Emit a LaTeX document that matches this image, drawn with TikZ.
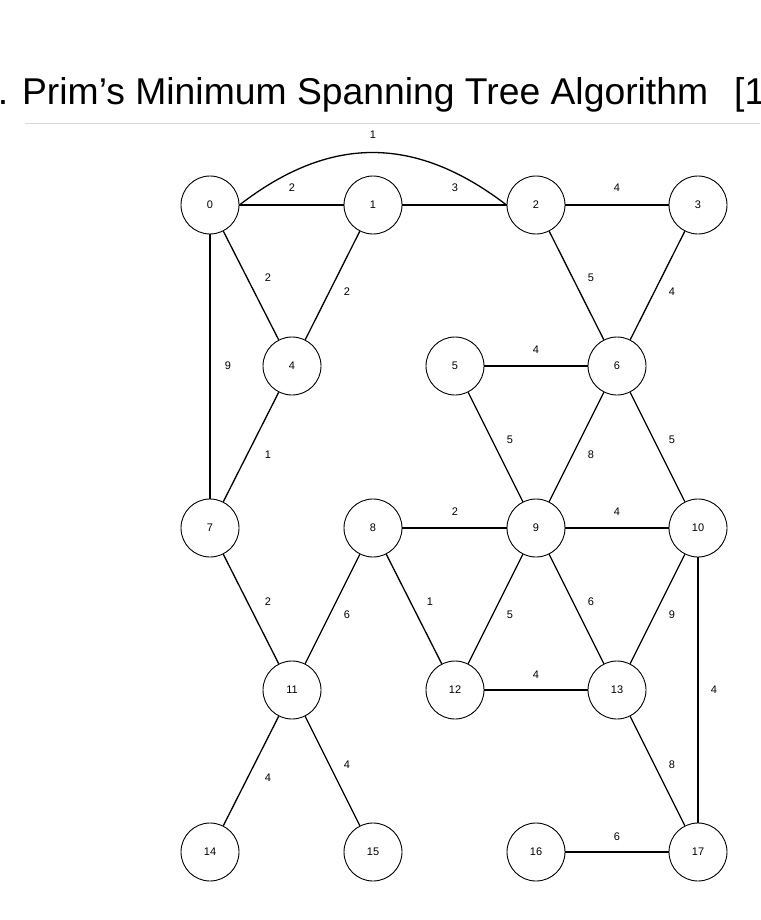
\documentclass[tikz,border=0pt]{standalone}
\usepackage{fontspec}
\setmainfont{Liberation Sans}
\begin{document}
\begin{tikzpicture}[x=1pt,y=-1pt,
  v/.style={circle,draw,line width=0.9pt,minimum size=58pt,inner sep=0pt,font=\fontsize{11}{13}\selectfont,fill=white},
  lbl/.style={font=\fontsize{11}{13}\selectfont,inner sep=1pt},
  e/.style={line width=1.3pt}]
\useasboundingbox (0,0) rectangle (760,920);
\node[anchor=base west,font=\fontsize{37.3}{40}\selectfont,inner sep=0pt] (title) at (-23,105) {1. Prim’s Minimum Spanning Tree Algorithm\hspace{26pt}[1]};
\draw[gray!30,line width=0.8pt] (25,123) -- (760,123);
\foreach \n/\x/\y in {0/210/205,1/373/205,2/536/205,3/698/205,4/292/366,5/455/366,6/617/366,7/210/528,8/373/528,9/536/528,10/698/528,11/292/690,12/455/690,13/617/690,14/210/852,15/373/852,16/536/852,17/698/852}
  \node[v] (n\n) at (\x,\y) {\n};
\foreach \a/\b in {0/1,1/2,2/3,0/4,1/4,0/7,2/6,3/6,5/6,4/7,5/9,6/9,6/10,8/9,9/10,7/11,8/11,8/12,9/12,9/13,10/13,10/17,12/13,11/14,11/15,13/17,16/17}
  \draw[e] (n\a) -- (n\b);
\draw[e] (n0.east) .. controls (330,135) and (415,135) .. (n2.west);
\foreach \t/\x/\y/\w in {a/373/135/1,b/292/188/2,c/455/188/3,d/617/188/4,e/268/278/2,f/347/292/2,g/228/366/9,h/591/278/5,i/672/292/4,j/536/350/4,k/268/455/1,l/510/440/5,m/591/455/8,n/672/440/5,o/455/512/2,p/617/512/4,q/268/602/2,r/347/615/6,s/430/602/1,t/510/615/5,u/591/602/6,w/672/615/9,x/714/690/4,y/536/675/4,z/268/778/4,A/347/765/4,B/672/765/8,C/617/837/6}
  \node[lbl] (w\t) at (\x,\y) {\w};
\end{tikzpicture}
\end{document}
